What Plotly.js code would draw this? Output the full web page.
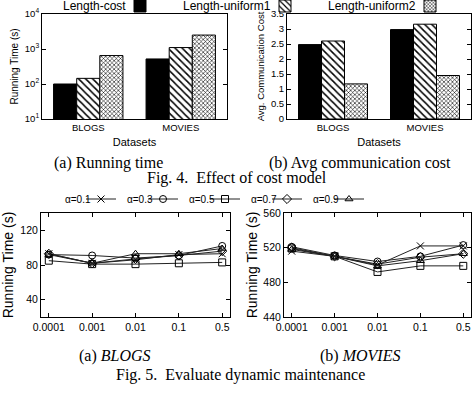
<!DOCTYPE html>
<html>
<head>
<meta charset="utf-8">
<script src="https://cdn.plot.ly/plotly-3.0.1.min.js"></script>
<style>html,body{margin:0;padding:0;background:#fff;}#chart{width:474px;height:395px;}</style>
</head>
<body>
<div id="chart"></div>
<script>
// ---- data ----
const datasets = ['BLOGS', 'MOVIES'];
const costModels = ['Length-cost', 'Length-uniform1', 'Length-uniform2'];
const runningTimeCost = [100, 520];
const runningTimeUniform1 = [145, 1100];
const runningTimeUniform2 = [650, 2500];
const commCostCost = [2.48, 2.98];
const commCostUniform1 = [2.60, 3.16];
const commCostUniform2 = [1.17, 1.45];
const logTickVals = [10, 100, 1000, 10000];
const logTickText = ['10<sup>1</sup>', '10<sup>2</sup>', '10<sup>3</sup>', '10<sup>4</sup>'];

const alphaCategories = ['0.0001', '0.001', '0.01', '0.1', '0.5'];
const alphaNames = ['α=0.1', 'α=0.3', 'α=0.5', 'α=0.7', 'α=0.9'];
const blogsA01 = [93, 82, 86, 92, 93];
const blogsA03 = [92, 91, 88, 91, 102];
const blogsA05 = [85, 81, 81, 82, 83];
const blogsA07 = [93, 82, 87, 91, 96];
const blogsA09 = [92, 82, 93, 93, 99];
const moviesA01 = [516, 510, 500, 522, 522];
const moviesA03 = [521, 511, 504, 510, 523];
const moviesA05 = [519, 510, 492, 499, 499];
const moviesA07 = [520, 510, 501, 509, 513];
const moviesA09 = [518, 510, 499, 505, 513];

// ---- styles ----
const W = 474, H = 395;
const px = x => x / W;
const py = y => 1 - y / H;
const sans = 'Liberation Sans, Arial, sans-serif';
const serif = 'Liberation Serif, Times New Roman, serif';

const barStyles = [
  {color: '#000', line: {color: '#000', width: 1}},
  {color: '#fff', line: {color: '#000', width: 1}, pattern: {shape: '\\', size: 5, solidity: 0.3, fgcolor: '#000', bgcolor: '#fff'}},
  {color: '#fff', line: {color: '#000', width: 1}, pattern: {shape: 'x', size: 3, solidity: 0.35, fgcolor: '#000', bgcolor: '#fff'}}
];
const symbols = ['x-thin-open', 'circle-open', 'square-open', 'diamond-open', 'triangle-up-open'];
// legend placement (text centre, swatch centre) in pixels
const barLegendTextX = [94, 227, 372];
const barLegendSwatchX = [140, 285, 430];
const lineLegendTextX = [78, 140, 202, 264, 326];
const lineLegendSwatchX = [101, 163, 225, 287, 349];

const traces = [];
const rt = [runningTimeCost, runningTimeUniform1, runningTimeUniform2];
const cc = [commCostCost, commCostUniform1, commCostUniform2];
costModels.forEach((name, i) => {
  traces.push({type: 'bar', x: datasets, y: rt[i], name: '', marker: barStyles[i],
    xaxis: 'x', yaxis: 'y', legend: i === 0 ? 'legend' : 'legend' + (i + 1), showlegend: true, legendgroup: name});
});
costModels.forEach((name, i) => {
  traces.push({type: 'bar', x: datasets, y: cc[i], name: name, marker: barStyles[i],
    xaxis: 'x2', yaxis: 'y2', showlegend: false, legendgroup: name});
});
const blogs = [blogsA01, blogsA03, blogsA05, blogsA07, blogsA09];
const movies = [moviesA01, moviesA03, moviesA05, moviesA07, moviesA09];
alphaNames.forEach((name, i) => {
  traces.push({type: 'scatter', mode: 'lines+markers', x: alphaCategories, y: blogs[i], name: '',
    line: {color: '#222', width: 1},
    marker: {symbol: symbols[i], size: 7, color: '#000', line: {color: '#000', width: 1}},
    xaxis: 'x3', yaxis: 'y3', legend: 'legend' + (i + 4), showlegend: true, legendgroup: name});
});
alphaNames.forEach((name, i) => {
  traces.push({type: 'scatter', mode: 'lines+markers', x: alphaCategories, y: movies[i], name: name,
    line: {color: '#222', width: 1},
    marker: {symbol: symbols[i], size: 7, color: '#000', line: {color: '#000', width: 1}},
    xaxis: 'x4', yaxis: 'y4', showlegend: false, legendgroup: name});
});

const axBase = {showline: true, linecolor: '#000', linewidth: 1, mirror: 'ticks', ticks: 'inside',
  ticklen: 4, tickcolor: '#000', showgrid: false, zeroline: false, fixedrange: true, automargin: false};
const topTickFont = {family: sans, size: 9.5, color: '#000'};
const botTickFont = {family: sans, size: 10.5, color: '#000'};

function makeLegend(swatchX, y) {
  return {orientation: 'h', x: px(swatchX - 20), xanchor: 'left', y: py(y), yanchor: 'middle',
    font: {family: sans, size: 10, color: '#000'}, borderwidth: 0,
    bgcolor: 'rgba(0,0,0,0)', itemclick: false, itemdoubleclick: false};
}
function label(text, x, y, font) {
  return {text: text, x: px(x), y: py(y), xref: 'paper', yref: 'paper', showarrow: false,
    xanchor: 'center', yanchor: 'middle', font: font};
}
const capFont = {family: serif, size: 16, color: '#000'};

const layout = {
  width: W, height: H,
  margin: {l: 0, r: 0, t: 0, b: 0, autoexpand: false},
  paper_bgcolor: '#fff', plot_bgcolor: '#fff',
  barmode: 'group', bargap: 0.25, bargroupgap: 0,
  xaxis: Object.assign({}, axBase, {domain: [px(42), px(227)], anchor: 'y', range: [-0.5, 1.5],
    tickfont: topTickFont, ticklen: 0,
    title: {text: 'Datasets', font: {family: sans, size: 11, color: '#000'}, standoff: 5}}),
  yaxis: Object.assign({}, axBase, {domain: [py(119), py(14)], anchor: 'x', type: 'log', range: [1, 4],
    tickvals: logTickVals, ticktext: logTickText, tickfont: topTickFont,
    title: {text: 'Running Time (s)', font: {family: sans, size: 10, color: '#000'}, standoff: 4}}),
  xaxis2: Object.assign({}, axBase, {domain: [px(287), px(471)], anchor: 'y2', range: [-0.5, 1.5],
    tickfont: topTickFont, ticklen: 0,
    title: {text: 'Datasets', font: {family: sans, size: 11, color: '#000'}, standoff: 5}}),
  yaxis2: Object.assign({}, axBase, {domain: [py(119), py(14)], anchor: 'x2', range: [0, 3.5], dtick: 0.5,
    tickfont: topTickFont,
    title: {text: 'Avg. Communication Cost', font: {family: sans, size: 9.5, color: '#000'}, standoff: 4}}),
  xaxis3: Object.assign({}, axBase, {domain: [px(41), px(230)], anchor: 'y3', type: 'category', range: [-0.18, 4.18],
    tickfont: botTickFont}),
  yaxis3: Object.assign({}, axBase, {domain: [py(317), py(213)], anchor: 'x3', range: [20, 140], dtick: 40,
    tickfont: botTickFont,
    title: {text: 'Running Time (s)', font: {family: sans, size: 14, color: '#000'}, standoff: 4}}),
  xaxis4: Object.assign({}, axBase, {domain: [px(284), px(471)], anchor: 'y4', type: 'category', range: [-0.18, 4.18],
    tickfont: botTickFont}),
  yaxis4: Object.assign({}, axBase, {domain: [py(317), py(213)], anchor: 'x4', range: [440, 560], dtick: 40,
    tickfont: botTickFont,
    title: {text: 'Running Time (s)', font: {family: sans, size: 14, color: '#000'}, standoff: 2}}),
  annotations: [
    label('(a) Running time', 108, 163, capFont),
    label('(b) Avg communication cost', 360, 163, capFont),
    label('Fig. 4.  Effect of cost model', 237, 178, capFont),
    label('(a) <i>BLOGS</i>', 115, 356, capFont),
    label('(b) <i>MOVIES</i>', 360, 356, capFont),
    label('Fig. 5.  Evaluate dynamic maintenance', 240, 375, capFont)
  ]
};
costModels.forEach((name, i) => {
  layout[i === 0 ? 'legend' : 'legend' + (i + 1)] = makeLegend(barLegendSwatchX[i], 6);
  layout.annotations.push(label(name, barLegendTextX[i], 6, {family: sans, size: 12, color: '#000'}));
});
alphaNames.forEach((name, i) => {
  layout['legend' + (i + 4)] = makeLegend(lineLegendSwatchX[i], 199);
  layout.annotations.push(label(name, lineLegendTextX[i], 199, {family: sans, size: 10, color: '#000'}));
});

Plotly.newPlot('chart', traces, layout, {staticPlot: true, displayModeBar: false});
</script>
</body>
</html>
